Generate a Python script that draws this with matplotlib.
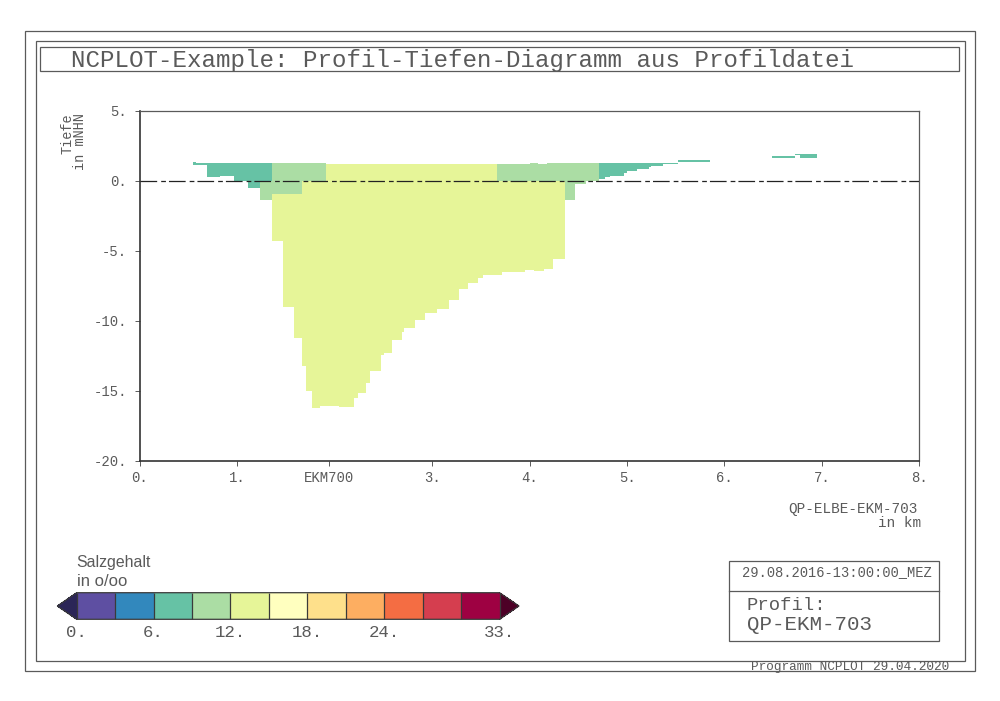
import matplotlib
matplotlib.use("Agg")
import matplotlib.pyplot as plt
from matplotlib.colors import BoundaryNorm, ListedColormap
from matplotlib.patches import Rectangle
from matplotlib.cm import ScalarMappable

plt.rcParams['font.family'] = ['Liberation Mono', 'DejaVu Sans']
plt.rcParams['lines.scale_dashes'] = False

TXT = '#5a5a5a'
LINE = '#5a5a5a'

# salinity classes
levels = [0, 3, 6, 9, 12, 15, 18, 21, 24, 27, 30, 33]
level_colors = ['#5e4fa2', '#3288bd', '#66c2a5', '#abdda4', '#e6f598', '#ffffbf',
                '#fee08b', '#fdae61', '#f46d43', '#d53e4f', '#9e0142']
under_color = '#2b2557'
over_color = '#4d0026'
cbar_ticks = [0, 6, 12, 18, 24, 33]
cbar_labels = ['0.', '6.', '12.', '18.', '24.', '33.']

x_ticks = [0, 1, 1.943, 3, 4, 5, 6, 7, 8]
x_labels = ['0.', '1.', 'EKM700', '3.', '4.', '5.', '6.', '7.', '8.']
y_ticks = [5, 0, -5, -10, -15, -20]
y_labels = ['5.', '0.', '-5.', '-10.', '-15.', '-20.']

# main channel, 13.5 o/oo
yellow_x = [1.360, 1.463, 1.586, 1.665, 1.709, 1.761, 1.843, 1.905, 2.038, 2.110, 2.192, 2.243,
            2.315, 2.366, 2.469, 2.500, 2.592, 2.692, 2.705, 2.818, 2.921, 3.044, 3.167, 3.270,
            3.362, 3.465, 3.516, 3.660, 3.719, 3.948, 4.040, 4.143, 4.235, 4.364]
yellow_top = [-0.95, -0.95, -0.95, 0, 0, 0, 0] + [1.2] * 20 + [0] * 6
yellow_bot = [-4.31, -9.0, -11.24, -13.24, -15.02, -16.22, -16.07, -16.07, -16.14, -16.2, -15.55,
              -15.17, -14.47, -13.62, -12.45, -12.3, -11.39, -10.8, -10.54, -9.95, -9.42, -9.14,
              -8.52, -7.76, -7.28, -6.95, -6.75, -6.75, -6.54, -6.38, -6.43, -6.33, -5.57]

# 10.5 o/oo
green_left_x = [1.234, 1.360, 1.665, 1.905]
green_left_top = [0, 1.25, 1.25]
green_left_bot = [-1.36, -0.95, 0]
green_right_x = [3.660, 4.005, 4.087, 4.180, 4.364, 4.468, 4.581, 4.710]
green_right_top = [1.22, 1.28, 1.22, 1.27, 1.27, 1.27, 1.25]
green_right_bot = [0, 0, 0, 0, -1.36, -0.24, 0]

# 7.5 o/oo
teal_left_x = [0.539, 0.570, 0.690, 0.826, 0.960, 1.104, 1.234, 1.360]
teal_left_top = [1.33, 1.24, 1.25, 1.25, 1.25, 1.25, 1.25]
teal_left_bot = [1.12, 1.12, 0.29, 0.33, 0, -0.5, 0]
teal_right_x = [4.710, 4.769, 4.820, 4.964, 4.995, 5.098, 5.221, 5.241, 5.364, 5.518]
teal_right_top = [1.25, 1.25, 1.25, 1.25, 1.25, 1.25, 1.25, 1.25, 1.23]
teal_right_bot = [0.12, 0.26, 0.34, 0.57, 0.7, 0.86, 0.96, 1.05, 1.18]
teal_a_x = [5.518, 5.847, 5.966]
teal_a_top = [1.46, 1.44]
teal_a_bot = [1.36, 1.40]
teal_b_x = [6.484, 6.720, 6.776, 6.945]
teal_b_top = [1.79, 1.91, 1.91]
teal_b_bot = [1.64, 1.86, 1.64]

cmap = ListedColormap(level_colors).with_extremes(under=under_color, over=over_color)
norm = BoundaryNorm(levels, cmap.N)


def fillCells(ax, edges, top, bot, value):
    ax.fill_between(edges, top + [top[-1]], bot + [bot[-1]], step='post',
                    color=cmap(norm(value)), linewidth=0, zorder=2)


fig = plt.figure(figsize=(10, 7.01), dpi=100)

# whole page in pixels, for frames and labels
page = fig.add_axes([0, 0, 1, 1])
page.set_xlim(0, 1000)
page.set_ylim(701, 0)
page.axis('off')

frames = [(24.7, 31.3, 949.8, 639.7), (35.5, 40.7, 929, 620.3), (40, 46.7, 919, 24.3),
          (729.3, 560.7, 210, 80)]
for f in frames:
    page.add_patch(Rectangle((f[0], f[1]), f[2], f[3], fill=False, edgecolor=LINE, linewidth=0.9))
page.plot([729.3, 939.3], [590.7, 590.7], color=LINE, linewidth=0.9)

page.text(71, 60, 'NCPLOT-Example: Profil-Tiefen-Diagramm aus Profildatei', fontsize=17.4,
          color=TXT, va='center', ha='left')
page.text(68, 113, 'Tiefe', rotation=90, fontsize=9.8, color=TXT, va='top', ha='center')
page.text(80, 113, 'in mNHN', rotation=90, fontsize=9.8, color=TXT, va='top', ha='center')
page.text(918, 509, 'QP-ELBE-EKM-703', fontsize=10.4, color=TXT, va='center', ha='right')
page.text(921, 523, 'in km', fontsize=10.4, color=TXT, va='center', ha='right')
page.text(76.7, 563, 'Salzgehalt', fontsize=11.4, color=TXT, va='center', ha='left',
          family='Liberation Sans')
page.text(76.7, 582, 'in o/oo', fontsize=12, color=TXT, va='center', ha='left',
          family='Liberation Sans')
page.text(741.7, 572, '29.08.2016-13:00:00_MEZ', fontsize=9.9, color=TXT, va='center', ha='left')
page.text(747, 605, 'Profil:', fontsize=13.6, color=TXT, va='center', ha='left')
page.text(747, 624, 'QP-EKM-703', fontsize=15, color=TXT, va='center', ha='left')
page.text(850, 669.6, 'Programm NCPLOT 29.04.2020', fontsize=9.2, color=TXT, va='baseline', ha='center')

# profile
ax = fig.add_axes([140 / 1000, 1 - 460.7 / 701, 779.3 / 1000, 350 / 701])
ax.set_xlim(0, 8)
ax.set_ylim(-20, 5)
ax.patch.set_alpha(0)

fillCells(ax, yellow_x, yellow_top, yellow_bot, 13.5)
fillCells(ax, green_left_x, green_left_top, green_left_bot, 10.5)
fillCells(ax, green_right_x, green_right_top, green_right_bot, 10.5)
fillCells(ax, teal_left_x, teal_left_top, teal_left_bot, 7.5)
fillCells(ax, teal_right_x, teal_right_top, teal_right_bot, 7.5)
fillCells(ax, teal_a_x, teal_a_top, teal_a_bot, 7.5)
fillCells(ax, teal_b_x, teal_b_top, teal_b_bot, 7.5)

ax.axhline(0, color='#222222', linewidth=0.9, linestyle=(0, (12, 2.9, 3.4, 2.2)), zorder=3)

ax.set_xticks(x_ticks)
ax.set_xticklabels(x_labels, fontsize=10, color=TXT)
ax.set_yticks(y_ticks)
ax.set_yticklabels(y_labels, fontsize=10, color=TXT)
ax.tick_params(axis='x', length=3.6, width=0.7, color=LINE, pad=4)
ax.tick_params(axis='y', length=3.6, width=0.7, color=LINE, pad=5.5)

for side in ['top', 'right']:
    ax.spines[side].set_linewidth(0.9)
    ax.spines[side].set_color(LINE)
for side in ['left', 'bottom']:
    ax.spines[side].set_linewidth(1.2)
    ax.spines[side].set_color('#333333')

# legend bar, triangles stay inside the given box
cax = fig.add_axes([57.3 / 1000, 1 - 619.3 / 701, 461.7 / 1000, 26.6 / 701])
sm = ScalarMappable(norm=norm, cmap=cmap)
cbar = fig.colorbar(sm, cax=cax, orientation='horizontal', extend='both', extendfrac=0.046,
                    spacing='proportional', drawedges=True, ticks=cbar_ticks)
cbar.ax.set_xticklabels(cbar_labels, fontsize=12.5, color=TXT)
cbar.ax.tick_params(which='both', length=0, pad=4)
cbar.outline.set_edgecolor('#3a3a3a')
cbar.outline.set_linewidth(0.9)
cbar.dividers.set_color('#3a3a3a')
cbar.dividers.set_linewidth(0.9)

fig.savefig('out.png', dpi=100)
